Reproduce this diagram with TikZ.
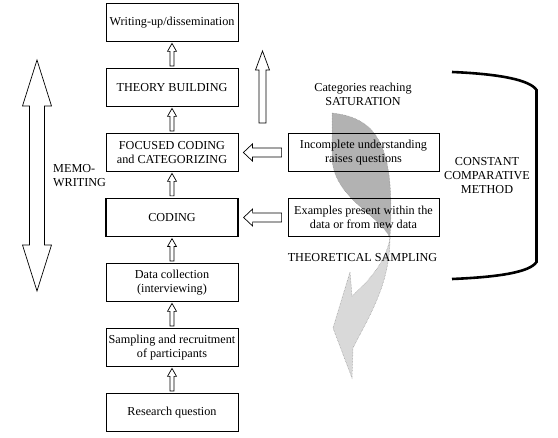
\documentclass[tikz,border=0pt]{standalone}
\usepackage{fontspec}
\setmainfont{Liberation Serif}
\usetikzlibrary{calc}
\newcommand\upblock[2]{\draw[blk] let \p1=(#1.north), \p2=(#2.south) in
  (\x1-2pt,\y1+2pt) -- (\x1-2pt,\y2-9.5pt) -- (\x1-4.5pt,\y2-9.5pt) -- (\x1,\y2-1.5pt)
  -- (\x1+4.5pt,\y2-9.5pt) -- (\x1+2pt,\y2-9.5pt) -- (\x1+2pt,\y1+2pt) -- cycle;}
\newcommand\leftblock[2]{\draw[blk] let \p1=(#1.west), \p2=(#2.east) in
  (\x1-6pt,\y1+4.5pt) -- (\x2+14pt,\y1+4.5pt) -- (\x2+14pt,\y1+8.5pt) -- (\x2+5pt,\y1)
  -- (\x2+14pt,\y1-8.5pt) -- (\x2+14pt,\y1-4.5pt) -- (\x1-6pt,\y1-4.5pt) -- cycle;}
\begin{document}
\begin{tikzpicture}[x=1pt,y=-1pt,
  font=\fontsize{12.2}{14}\selectfont,
  box/.style={draw, line width=0.8pt, minimum width=132pt, minimum height=38pt, align=center, inner sep=1pt},
  rbox/.style={box, minimum width=151pt},
  blk/.style={draw, line width=0.7pt, fill=white, line join=miter},
  swooshdark/.style={fill=black!30, draw=black!45, densely dotted, line width=0.5pt},
  swooshlight/.style={fill=black!15, draw=black!45, densely dotted, line width=0.5pt},
  lbl/.style={align=center, inner sep=1pt}]
\useasboundingbox (0,0) rectangle (558,438);

% gray swoosh arrow (theoretical sampling loop)
\draw[swooshdark] (332,113) .. controls (380,118) and (395,150) .. (390,238)
  .. controls (380,215) and (336,200) .. (332,160) -- cycle;
\draw[swooshlight] (390,238) .. controls (390,285) and (368,318) .. (353,348)
  -- (352,378) -- (333,328) -- (350,272) -- (352,296)
  .. controls (368,282) and (386,262) .. (390,238) -- cycle;

% main column
\node[box] (w) at (172,22.5) {Writing-up/dissemination};
\node[box] (t) at (172,87.5) {THEORY BUILDING};
\node[box] (f) at (172,152.5) {FOCUSED CODING\\and CATEGORIZING};
\node[box, line width=1.2pt] (c) at (172,217.5) {CODING};
\node[box] (d) at (172,282.5) {Data collection\\(interviewing)};
\node[box] (s) at (172,347.5) {Sampling and recruitment\\of participants};
\node[box] (r) at (172,412.5) {Research question};

% right boxes
\node[rbox] (i) at (363.5,152.5) {Incomplete understanding\\raises questions};
\node[rbox] (e) at (363.5,217.5) {Examples present within the\\data or from new data};

% labels
\node[lbl] (sat) at (363,94) {Categories reaching\\SATURATION};
\node[lbl] (ts) at (362.5,258) {THEORETICAL SAMPLING};
\node[lbl] (ccm) at (487,176) {CONSTANT\\COMPARATIVE\\METHOD};
\node[lbl, align=left, anchor=west] (memo) at (52,175.5) {MEMO-\\WRITING};

% small up arrows
\upblock{r}{s}
\upblock{s}{d}
\upblock{d}{c}
\upblock{c}{f}
\upblock{f}{t}
\upblock{t}{w}

% left arrows
\leftblock{i}{f}
\leftblock{e}{c}

% memo-writing double arrow
\draw[blk] (37,60) -- (51.5,106) -- (44.5,106) -- (44.5,245) -- (51.5,245) -- (37,291)
  -- (22.5,245) -- (29.5,245) -- (29.5,106) -- (22.5,106) -- cycle;

% saturation up arrow
\draw[blk] (262.5,51) -- (269.5,70) -- (266,70) -- (266,123) -- (259,123) -- (259,70)
  -- (255.5,70) -- cycle;

% constant comparative bracket
\draw[line width=2.6pt] (452,72) .. controls (500,74) and (530,80) .. (536.5,90)
  -- (536.5,262) .. controls (530,272) and (500,277) .. (452,279);
\end{tikzpicture}
\end{document}
